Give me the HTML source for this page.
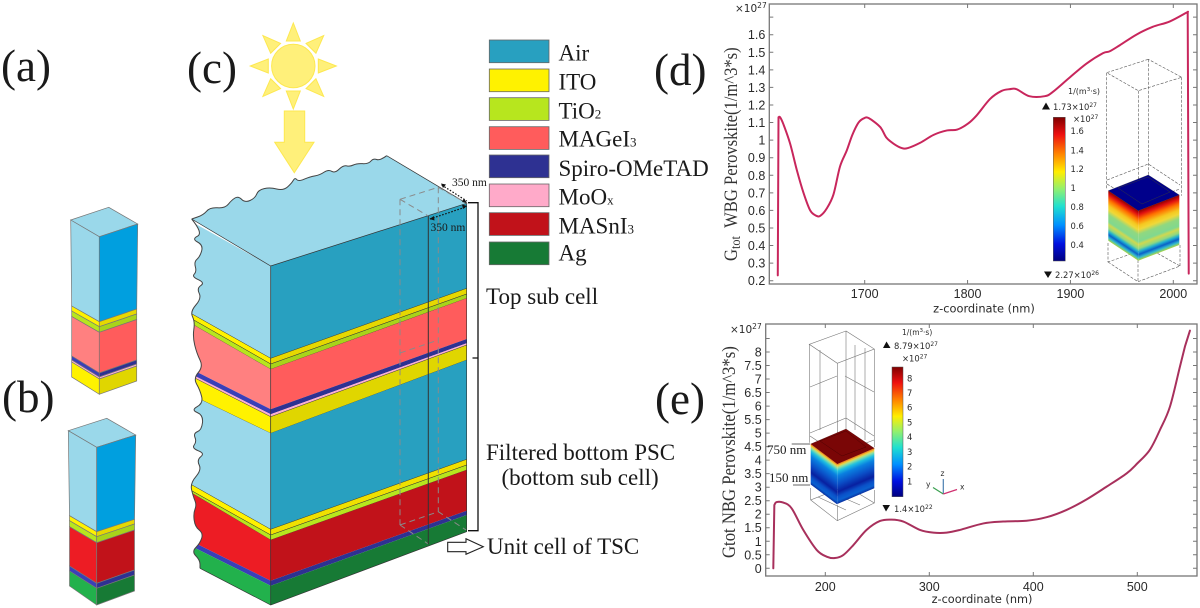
<!DOCTYPE html>
<html lang="en">
<head>
<meta charset="utf-8">
<title>Tandem solar cell structure and generation rate profiles</title>
<style>
html,body{margin:0;padding:0;background:#fff}
svg{display:block}
.serif{font-family:"Liberation Serif",serif;fill:#1a1a1a}
.sans{font-family:"DejaVu Sans","Liberation Sans",sans-serif;fill:#2a2a2a}
.tick{font-family:"Liberation Sans",sans-serif;fill:#2a2a2a;font-size:12.5px}
.panel{font-size:45px}
.leg{font-size:23px}
.note{font-size:23px}
.nm{font-size:11.5px}
.cb{font-size:8.4px}
.edge{stroke:#333;stroke-width:.5}
.ce{stroke:#777;stroke-width:.7}
</style>
</head>
<body>
<svg id="figure" xmlns="http://www.w3.org/2000/svg" width="1200" height="608" viewBox="0 0 1200 608">
<defs>
<clipPath id="leftClip"><path class="wave" data-pts="191.7,219 203.3,233.3 191.7,239 203.3,245 200,256.7 194,261.7 196.7,271.7 191.7,276.7 205,282.7 196.7,288.3 201.7,298.3 190,311.7 195,321.7 192.7,336.7 196.7,353.3 203.3,366.7 193.3,378.3 200,390 203.3,403.3 191,410 203.3,415 201.7,430 193.3,433.3 196.7,441.7 191.7,448.3 205,453.3 196.7,460 201.7,470 190,483.3 193.3,496.7 196.7,505 193.3,513.3 195,526.7 203.3,533.3 200,543.3 191.7,551.7 200,560 200,568.3" data-tail="L270.7,605L270.7,266Z"/></clipPath>
<linearGradient id="jetBar" x1="0" y1="0" x2="0" y2="1">
<stop offset="0" stop-color="#7f0000"/><stop offset=".12" stop-color="#ee1010"/><stop offset=".25" stop-color="#ff8000"/><stop offset=".38" stop-color="#ffee00"/><stop offset=".5" stop-color="#90f070"/><stop offset=".62" stop-color="#20e0d0"/><stop offset=".75" stop-color="#0090ff"/><stop offset=".88" stop-color="#0010e0"/><stop offset="1" stop-color="#00007f"/>
</linearGradient>
<linearGradient id="wbgBands" x1="0" y1="0" x2="0" y2="1">
<stop offset="0" stop-color="#8b0000"/><stop offset=".08" stop-color="#e01010"/><stop offset=".18" stop-color="#ff7000"/><stop offset=".3" stop-color="#f5c820"/><stop offset=".38" stop-color="#f0d838"/><stop offset=".48" stop-color="#90d880"/><stop offset=".62" stop-color="#80d890"/><stop offset=".68" stop-color="#d0d850"/><stop offset=".76" stop-color="#90d880"/><stop offset=".82" stop-color="#20b0d0"/><stop offset=".88" stop-color="#0a60c8"/><stop offset=".94" stop-color="#30b8d0"/><stop offset="1" stop-color="#b0d840"/>
</linearGradient>
<linearGradient id="nbgBands" x1="0" y1="0" x2="0" y2="1">
<stop offset="0" stop-color="#f07010"/><stop offset=".05" stop-color="#f0d040"/><stop offset=".1" stop-color="#90e0a0"/><stop offset=".18" stop-color="#20c0e0"/><stop offset=".3" stop-color="#0a80e0"/><stop offset=".5" stop-color="#0a50c8"/><stop offset=".7" stop-color="#0820a0"/><stop offset=".82" stop-color="#0a50c8"/><stop offset=".92" stop-color="#0a60d0"/><stop offset="1" stop-color="#0a30a0"/>
</linearGradient>
</defs>

<text class="serif panel" x="1" y="81">(a)</text>
<text class="serif panel" x="2" y="412">(b)</text>
<text class="serif panel" x="187" y="83">(c)</text>
<text class="serif panel" x="654" y="85">(d)</text>
<text class="serif panel" x="655" y="414">(e)</text>

<!-- Sun -->
<g fill="#fff07a" stroke="#fde850" stroke-width="1">
<circle cx="293.3" cy="66" r="21.7"/>
<polygon points="293.3,23 286.3,41 300.3,41"/>
<polygon points="293.3,23 286.3,41 300.3,41" transform="rotate(45 293.3 66)"/>
<polygon points="293.3,23 286.3,41 300.3,41" transform="rotate(90 293.3 66)"/>
<polygon points="293.3,23 286.3,41 300.3,41" transform="rotate(135 293.3 66)"/>
<polygon points="293.3,23 286.3,41 300.3,41" transform="rotate(180 293.3 66)"/>
<polygon points="293.3,23 286.3,41 300.3,41" transform="rotate(225 293.3 66)"/>
<polygon points="293.3,23 286.3,41 300.3,41" transform="rotate(270 293.3 66)"/>
<polygon points="293.3,23 286.3,41 300.3,41" transform="rotate(315 293.3 66)"/>
</g>
<polygon points="284.3,111 304.7,111 304.7,142.3 314,142.3 294.3,172.7 274.7,142.3 284.3,142.3" fill="#fff07a" stroke="#fde850" stroke-width="1"/>

<!-- Cell (a) -->
<g class="ce">
<polygon points="108.7,207.3 70.7,220 99.3,236.7 137.7,224" fill="#9ad8ea"/>
<polygon points="70.7,220 99.3,236.7 99.3,321.7 71.7,306" fill="#9ad8ea"/>
<polygon points="99.3,236.7 137.7,224 136.7,309 99.3,321.7" fill="#009fdf"/>
<polygon points="71.7,306 99.3,321.7 99.3,326.7 71.7,311" fill="#fff200"/><polygon points="99.3,321.7 136.7,309 136.7,314 99.3,326.7" fill="#e6d800"/>
<polygon points="71.7,311 99.3,326.7 99.3,332.3 71.7,316.5" fill="#b7e61e"/><polygon points="99.3,326.7 136.7,314 136.7,319.5 99.3,332.3" fill="#a8d41a"/>
<polygon points="71.7,316.5 99.3,332.3 99.3,373 71.7,356" fill="#ff8080"/><polygon points="99.3,332.3 136.7,319.5 136.7,360 99.3,373" fill="#ff5c5c"/>
<polygon points="71.7,356 99.3,373 99.3,377 71.7,360" fill="#3a3fb8"/><polygon points="99.3,373 136.7,360 136.7,364 99.3,377" fill="#2e3192"/>
<polygon points="71.7,360 99.3,377 99.3,379 71.7,362" fill="#ffb0d0"/><polygon points="99.3,377 136.7,364 136.7,366 99.3,379" fill="#ffb0d0"/>
<polygon points="71.7,362 99.3,379 99.3,394.3 71.7,377" fill="#fff200"/><polygon points="99.3,379 136.7,366 136.7,381 99.3,394.3" fill="#e0d600"/>
</g>

<!-- Cell (b) -->
<g class="ce">
<polygon points="106.7,418.3 68.3,430.7 96.7,447.3 135.7,435" fill="#9ad8ea"/>
<polygon points="68.3,430.7 96.7,447.3 96.7,531.7 69.5,515.7" fill="#9ad8ea"/>
<polygon points="96.7,447.3 135.7,435 134.5,519.3 96.7,531.7" fill="#009fdf"/>
<polygon points="69.5,515.7 96.7,531.7 96.7,536.7 69.5,520.7" fill="#fff200"/><polygon points="96.7,531.7 134.5,519.3 134.5,524 96.7,536.7" fill="#e6d800"/>
<polygon points="69.5,520.7 96.7,536.7 96.7,542.7 69.5,526.7" fill="#b7e61e"/><polygon points="96.7,536.7 134.5,524 134.5,530 96.7,542.7" fill="#a8d41a"/>
<polygon points="69.5,526.7 96.7,542.7 96.7,583.3 69.5,566" fill="#ed1c24"/><polygon points="96.7,542.7 134.5,530 134.5,570 96.7,583.3" fill="#c1121a"/>
<polygon points="69.5,566 96.7,583.3 96.7,588.3 69.5,571" fill="#3a3fb8"/><polygon points="96.7,583.3 134.5,570 134.5,575 96.7,588.3" fill="#2e3192"/>
<polygon points="69.5,571 96.7,588.3 96.7,605 69.5,586" fill="#22b14c"/><polygon points="96.7,588.3 134.5,575 134.5,591 96.7,605" fill="#177a35"/>
</g>

<!-- Main block (c) -->
<g>
<path class="wave" fill="#9ad8ea" data-pts="386.7,155.7 380,160.7 373.3,158.3 368.3,164 356.7,163.3 350,166.7 343.3,165 335,173.3 328.3,169.3 320,175 310,176.7 298.3,181.7 295,177.3 291.7,183.3 283.3,190.7 270,187.3 258.3,190 255,198.3 245,202.7 238.3,196 231.7,200 225,208.3 210,207.3 203.3,215 191.7,219" data-tail="L270.7,266L466.7,203.3Z"/>
<g clip-path="url(#leftClip)">
<polygon fill="#9ad8ea" points="185,218 270.7,266 270.7,358.3 185,310"/>
<polygon fill="#fff200" class="edge" points="185,310 270.7,358.3 270.7,364 185,315"/>
<polygon fill="#b7e61e" class="edge" points="185,315 270.7,364 270.7,369.3 185,320"/>
<polygon fill="#ff8080" points="185,320 270.7,369.3 270.7,409.3 185,366"/>
<polygon fill="#3a3fb8" points="185,366 270.7,409.3 270.7,414.3 185,371"/>
<polygon fill="#ffb0d0" points="185,371 270.7,414.3 270.7,416.7 185,373"/>
<polygon fill="#fff200" class="edge" points="185,373 270.7,416.7 270.7,433.3 185,392"/>
<polygon fill="#9ad8ea" points="185,392 270.7,433.3 270.7,529.3 185,481"/>
<polygon fill="#fff200" class="edge" points="185,481 270.7,529.3 270.7,535 185,487"/>
<polygon fill="#b7e61e" class="edge" points="185,487 270.7,535 270.7,540 185,489"/>
<polygon fill="#ed1c24" points="185,489 270.7,540 270.7,580.7 185,538"/>
<polygon fill="#3a3fb8" points="185,538 270.7,580.7 270.7,585.7 185,543"/>
<polygon fill="#22b14c" points="185,543 270.7,585.7 270.7,605 185,563"/>
</g>
<g>
<polygon fill="#28a0c0" points="270.7,266 466.7,203.3 466.7,288.3 270.7,358.3"/>
<polygon fill="#e6d800" class="edge" points="270.7,358.3 466.7,288.3 466.7,294 270.7,364"/>
<polygon fill="#a8d41a" class="edge" points="270.7,364 466.7,294 466.7,298.3 270.7,369.3"/>
<polygon fill="#ff5c5c" points="270.7,369.3 466.7,298.3 466.7,339 270.7,409.3"/>
<polygon fill="#2e3192" points="270.7,409.3 466.7,339 466.7,343.3 270.7,414.3"/>
<polygon fill="#ffb0d0" points="270.7,414.3 466.7,343.3 466.7,345 270.7,416.7"/>
<polygon fill="#e0d600" class="edge" points="270.7,416.7 466.7,345 466.7,360 270.7,433.3"/>
<polygon fill="#28a0c0" points="270.7,433.3 466.7,360 466.7,459.3 270.7,529.3"/>
<polygon fill="#f0e000" class="edge" points="270.7,529.3 466.7,459.3 466.7,465 270.7,535"/>
<polygon fill="#b7e61e" class="edge" points="270.7,535 466.7,465 466.7,470 270.7,540"/>
<polygon fill="#c1121a" points="270.7,540 466.7,470 466.7,510.7 270.7,580.7"/>
<polygon fill="#2e3192" points="270.7,580.7 466.7,510.7 466.7,515 270.7,585.7"/>
<polygon fill="#177a35" points="270.7,585.7 466.7,515 466.7,531.7 270.7,605"/>
</g>
<path class="wave" fill="none" stroke="#444" stroke-width="1" stroke-linejoin="round" data-pts="386.7,155.7 380,160.7 373.3,158.3 368.3,164 356.7,163.3 350,166.7 343.3,165 335,173.3 328.3,169.3 320,175 310,176.7 298.3,181.7 295,177.3 291.7,183.3 283.3,190.7 270,187.3 258.3,190 255,198.3 245,202.7 238.3,196 231.7,200 225,208.3 210,207.3 203.3,215 191.7,219" data-tail=""/>
<path class="wave" fill="none" stroke="#444" stroke-width="1" stroke-linejoin="round" data-pts="191.7,219 203.3,233.3 191.7,239 203.3,245 200,256.7 194,261.7 196.7,271.7 191.7,276.7 205,282.7 196.7,288.3 201.7,298.3 190,311.7 195,321.7 192.7,336.7 196.7,353.3 203.3,366.7 193.3,378.3 200,390 203.3,403.3 191,410 203.3,415 201.7,430 193.3,433.3 196.7,441.7 191.7,448.3 205,453.3 196.7,460 201.7,470 190,483.3 193.3,496.7 196.7,505 193.3,513.3 195,526.7 203.3,533.3 200,543.3 191.7,551.7 200,560 200,568.3" data-tail=""/>
<path d="M386.7,155.7L466.7,203.3L270.7,266L191.7,219M270.7,266V605" fill="none" stroke="#333" stroke-width=".7"/>
<path d="M200,568.3L270.7,605L466.7,531.7V203.3" fill="none" stroke="#333" stroke-width=".6"/>
</g>

<!-- Unit cell overlay -->
<g fill="none">
<path d="M400,199.3L438.3,187.3L466.7,203.3M400,199.3L428.3,216M400,199.3V525M438.3,187.3V511.7M400,353L438.3,340M400,525L438.3,511.7L466,530M400,525L428.3,544" stroke="#8a8a8a" stroke-width="1" stroke-dasharray="6 4"/>
<path d="M428.3,216V544.3" stroke="#333" stroke-width="1"/>
<path d="M441.7,185L466.7,201" stroke="#111" stroke-width="1.2" stroke-dasharray="1.6 1.6"/>
<path d="M430,219L466.7,206.7" stroke="#111" stroke-width="1.2" stroke-dasharray="1.6 1.6"/>
</g>
<polygon points="441,183.5 446,184.5 443,188" fill="#111"/>
<polygon points="429.5,219 434,216 434.5,220.5" fill="#111"/>
<polygon points="467,203 462,202 464,198.5" fill="#111"/>
<polygon points="467,206 462,204.5 463,209" fill="#111"/>
<text class="serif nm" x="452" y="186">350 nm</text>
<text class="serif nm" x="430.5" y="231">350 nm</text>

<path d="M468,202.7H478V530.7H468M472.5,358H478" fill="none" stroke="#111" stroke-width="1.3"/>
<polygon points="447.7,542.3 466,542.3 466,538.7 483.3,546.7 466,554.3 466,551.7 447.7,551.7" fill="#fff" stroke="#222" stroke-width="1.1"/>
<text class="serif note" x="486" y="304">Top sub cell</text>
<text class="serif note" x="486" y="460">Filtered bottom PSC</text>
<text class="serif note" x="501.5" y="485">(bottom sub cell)</text>
<text class="serif note" x="487" y="554">Unit cell of TSC</text>

<!-- Legend -->
<g>
<rect x="489.3" y="40" width="59.7" height="22.7" fill="#28a0c0" stroke="#666" stroke-width=".8"/>
<text class="serif leg" x="558.5" y="60.5">Air</text>
<rect x="489.3" y="69" width="59.7" height="22.7" fill="#fff200" stroke="#666" stroke-width=".8"/>
<text class="serif leg" x="558.5" y="89.3">ITO</text>
<rect x="489.3" y="97.7" width="59.7" height="22.7" fill="#b7e61e" stroke="#666" stroke-width=".8"/>
<text class="serif leg" x="558.5" y="118.3">TiO<tspan font-size="13">2</tspan></text>
<rect x="489.3" y="126.7" width="59.7" height="22.7" fill="#ff5c5c" stroke="#666" stroke-width=".8"/>
<text class="serif leg" x="558.5" y="146.7">MAGeI<tspan font-size="13">3</tspan></text>
<rect x="489.3" y="155" width="59.7" height="22.7" fill="#2e3192" stroke="#666" stroke-width=".8"/>
<text class="serif leg" x="558.5" y="176">Spiro-OMeTAD</text>
<rect x="489.3" y="184" width="59.7" height="22.7" fill="#ffaac9" stroke="#666" stroke-width=".8"/>
<text class="serif leg" x="558.5" y="204.3">MoO<tspan font-size="13">x</tspan></text>
<rect x="489.3" y="212.7" width="59.7" height="22.7" fill="#c1121a" stroke="#666" stroke-width=".8"/>
<text class="serif leg" x="558.5" y="233.3">MASnI<tspan font-size="13">3</tspan></text>
<rect x="489.3" y="242" width="59.7" height="22.7" fill="#177a35" stroke="#666" stroke-width=".8"/>
<text class="serif leg" x="558.5" y="260.5">Ag</text>
</g>

<!-- Chart (d) and (e) get axes from script -->
<g id="chartD"></g>
<g id="chartE"></g>

<text class="serif" font-size="19" transform="translate(737,261) rotate(-90) scale(.873,1)" style="fill:#333">G<tspan font-size="14" dy="3">tot</tspan><tspan dy="-3"> &#160;WBG Perovskite(1/m^3*s)</tspan></text>
<text class="serif" font-size="19" transform="translate(735,558) rotate(-90) scale(.879,1)" style="fill:#333">Gtot NBG Perovskite(1/m^3*s)</text>
<text class="sans" font-size="11.4" x="984" y="312.5" text-anchor="middle">z-coordinate (nm)</text>
<text class="sans" font-size="11.3" x="982" y="603" text-anchor="middle">z-coordinate (nm)</text>
<text class="sans" font-size="10.5" x="735" y="12">×10<tspan font-size="7.5" dy="-4">27</tspan></text>
<text class="sans" font-size="10.5" x="730" y="333">×10<tspan font-size="7.5" dy="-4">27</tspan></text>

<!-- Inset d -->
<g>
<path d="M1148.3,59.3L1106.7,72.7L1138.3,90.7L1181.7,77.3ZM1106.7,72.7V189M1138.3,90.7V210M1148.3,59.3V175M1181.7,77.3V195.7M1107,180L1148.3,164L1180,185M1107,184L1138,203L1180,189M1108,262L1138,281.7L1180,266L1148,248ZM1108,243V262M1138,260V282M1180,245V266" fill="none" stroke="#555" stroke-width=".6" stroke-dasharray="3 1.5"/>
<polygon points="1148.3,175 1108.3,190.7 1138.3,210.7 1179.3,195" fill="#00008b" stroke="#223" stroke-width=".3"/>
<path d="M1118,188L1148,177L1170,192M1118,188L1142,204L1170,192" fill="none" stroke="#334" stroke-width=".5"/>
<rect width="30" height="50" fill="url(#wbgBands)" transform="matrix(1,.667,0,1,1108.3,190.7)"/>
<rect width="41" height="50" fill="url(#wbgBands)" transform="matrix(1,-.383,0,1,1138.3,210.7)"/>
<rect x="1053.3" y="117.3" width="12" height="143.7" fill="url(#jetBar)" stroke="#555" stroke-width=".5"/>
<text class="sans" font-size="8" x="1068" y="94">1/(m<tspan font-size="5.5" dy="-3">3</tspan><tspan dy="3">·s)</tspan></text>
<polygon points="1046,102.5 1042,109.5 1050,109.5" fill="#111"/>
<text class="sans cb" x="1053" y="110">1.73×10<tspan font-size="6" dy="-3">27</tspan></text>
<text class="sans cb" x="1073" y="122">×10<tspan font-size="6" dy="-3">27</tspan></text>
<polygon points="1048,278 1044,271.5 1052,271.5" fill="#111"/>
<text class="sans cb" x="1055" y="278">2.27×10<tspan font-size="6" dy="-3">26</tspan></text>
<text class="sans cb" x="1070.5" y="134">1.6</text>
<text class="sans cb" x="1070.5" y="153.5">1.4</text>
<text class="sans cb" x="1070.5" y="172">1.2</text>
<text class="sans cb" x="1070.5" y="191">1</text>
<text class="sans cb" x="1070.5" y="210">0.8</text>
<text class="sans cb" x="1070.5" y="229">0.6</text>
<text class="sans cb" x="1070.5" y="248">0.4</text>
</g>

<!-- Inset e -->
<g>
<path d="M846,331L809.3,344.3L837.3,363.3L874.3,349ZM809.3,344.3V442.7M837.3,363.3V464M846,331V429M874.3,349V447.3M820,350V430M855,345V430M865,348V440M810,387L837,376M845,376L874,392M810,433L846,418L874,436M810,436L837,454L874,440M810.7,500L837.3,520.7L874.3,503L846,486ZM810.7,488V500M837.3,505V521M874.3,490V503M818,497L846,510M830,492L860,505" fill="none" stroke="#777" stroke-width=".6"/>
<polygon points="846,429 810.7,444 837.3,464 874.3,448.3" fill="#7a0606" stroke="#400" stroke-width=".3"/>
<path d="M820,441L846,431L866,447M820,441L842,456L866,447" fill="none" stroke="#400" stroke-width=".4"/>
<rect width="26.6" height="40.5" fill="url(#nbgBands)" transform="matrix(1,.752,0,1,810.7,444)"/>
<rect width="37" height="40" fill="url(#nbgBands)" transform="matrix(1,-.424,0,1,837.3,464)"/>
<rect x="892" y="367" width="11" height="129.7" fill="url(#jetBar)" stroke="#555" stroke-width=".5"/>
<text class="sans" font-size="7.5" x="902" y="335">1/(m<tspan font-size="5.5" dy="-3">3</tspan><tspan dy="3">·s)</tspan></text>
<polygon points="886.5,341.5 883,348 890.5,348" fill="#111"/>
<text class="sans cb" x="894" y="349">8.79×10<tspan font-size="6" dy="-3">27</tspan></text>
<text class="sans cb" x="902" y="361.5">×10<tspan font-size="6" dy="-3">27</tspan></text>
<polygon points="886,511.5 882.5,505 890,505" fill="#111"/>
<text class="sans cb" x="894" y="512">1.4×10<tspan font-size="6" dy="-3">22</tspan></text>
<text class="sans cb" x="907" y="381.7">8</text>
<text class="sans cb" x="907" y="396">7</text>
<text class="sans cb" x="907" y="410.7">6</text>
<text class="sans cb" x="907" y="425.3">5</text>
<text class="sans cb" x="907" y="440">4</text>
<text class="sans cb" x="907" y="455">3</text>
<text class="sans cb" x="907" y="469.7">2</text>
<text class="sans cb" x="907" y="484.7">1</text>
<path d="M791.7,444H810M793,485H810" stroke="#333" stroke-width=".8"/>
<text class="serif" font-size="13" x="767" y="454">750 nm</text>
<text class="serif" font-size="13" x="769" y="482">150 nm</text>
<g stroke-width="1.2" fill="none">
<path d="M943.3,494V479" stroke="#4a7fb0"/><path d="M943.3,494L933,487.5" stroke="#3aa050"/><path d="M943.3,494L957,489.5" stroke="#d03070"/>
</g>
<text class="sans" font-size="7.5" x="940.5" y="476">z</text>
<text class="sans" font-size="7.5" x="926" y="487">y</text>
<text class="sans" font-size="7.5" x="960" y="489.5">x</text>
</g>
</svg>

<script>
/* Chart (d): WBG perovskite generation rate */
const wbgZ = [1615.5,1616.2,1617.8,1621,1627.5,1634,1640.5,1647,1652.8,1657,1663,1669.6,1676,1682.5,1688,1694,1699.5,1704,1715,1721,1728,1736,1742,1754,1767,1780,1790,1800.6,1808.7,1822,1833,1841,1847.6,1860,1875,1883,1899,1915.5,1931.7,1938,1948,1964,1980,1996.4,2012.6,2014,2015];
const wbgG = [0.23,1.13,1.13,1.09,0.98,0.83,0.70,0.60,0.57,0.57,0.61,0.69,0.85,0.94,1.03,1.10,1.125,1.125,1.075,1.015,0.98,0.955,0.955,0.985,1.03,1.055,1.06,1.095,1.14,1.235,1.28,1.29,1.29,1.25,1.25,1.275,1.355,1.435,1.495,1.505,1.54,1.6,1.645,1.675,1.725,1.73,0.24];
const wbgXTicks = [1700,1800,1900,2000];
const wbgYTicks = [0.2,0.3,0.4,0.5,0.6,0.7,0.8,0.9,1,1.1,1.2,1.3,1.4,1.5,1.6,1.7];
const wbgYLabels = ["0.2","0.3","0.4","0.5","0.6","0.7","0.8","0.9","1","1.1","1.2","1.3","1.4","1.5","1.6",""];

/* Chart (e): NBG perovskite generation rate */
const nbgZ = [150,151,153.2,159.6,167.6,178.8,191.7,201.3,209.3,217.3,227,239.7,252.6,263.8,275,291,303.8,316.7,329.5,352,371,393.6,412.8,432,451.3,470.5,489.7,500,512,521.8,531.4,541,545.8,550.6];
const nbgG = [0,2.34,2.45,2.43,2.22,1.42,0.68,0.43,0.38,0.49,0.86,1.42,1.75,1.8,1.73,1.42,1.32,1.32,1.42,1.66,1.73,1.76,1.89,2.16,2.55,3.02,3.51,3.88,4.38,5.12,5.98,7.46,8.2,8.79];
const nbgXTicks = [200,300,400,500];
const nbgYTicks = [0,0.5,1,1.5,2,2.5,3,3.5,4,4.5,5,5.5,6,6.5,7,7.5,8,8.5];
const nbgYLabels = ["0","0.5","1","1.5","2","2.5","3","3.5","4","4.5","5","5.5","6","6.5","7","7.5","8",""];

const NS = "http://www.w3.org/2000/svg";
function lin(d0, d1, r0, r1) { return v => r0 + (v - d0) * (r1 - r0) / (d1 - d0); }

/* Rounds the hand-drawn wavy edges of the schematic */
document.querySelectorAll(".wave").forEach(el => {
  const p = el.getAttribute("data-pts").trim().split(/\s+/).map(s => s.split(",").map(Number));
  let d = "M" + p[0][0] + "," + p[0][1];
  for (let i = 1; i < p.length - 1; i++) {
    const mx = (p[i][0] + p[i + 1][0]) / 2, my = (p[i][1] + p[i + 1][1]) / 2;
    d += "Q" + p[i][0] + "," + p[i][1] + " " + mx + "," + my;
  }
  d += "L" + p[p.length - 1][0] + "," + p[p.length - 1][1];
  el.setAttribute("d", d + (el.getAttribute("data-tail") || ""));
});

/* Catmull-Rom through interior points, straight first and last segments */
function curvePath(pts) {
  const n = pts.length;
  let d = "M" + pts[0][0].toFixed(2) + "," + pts[0][1].toFixed(2) + "L" + pts[1][0].toFixed(2) + "," + pts[1][1].toFixed(2);
  for (let i = 1; i < n - 2; i++) {
    const a = pts[Math.max(1, i - 1)], b = pts[i], c = pts[i + 1], e = pts[Math.min(n - 2, i + 2)];
    d += "C" + (b[0] + (c[0] - a[0]) / 6).toFixed(2) + "," + (b[1] + (c[1] - a[1]) / 6).toFixed(2) + " "
       + (c[0] - (e[0] - b[0]) / 6).toFixed(2) + "," + (c[1] - (e[1] - b[1]) / 6).toFixed(2) + " "
       + c[0].toFixed(2) + "," + c[1].toFixed(2);
  }
  return d + "L" + pts[n - 1][0].toFixed(2) + "," + pts[n - 1][1].toFixed(2);
}

function drawChart(host, box, sx, sy, xTicks, yTicks, yLabels, zs, gs, color, prefix) {
  const frame = document.createElementNS(NS, "rect");
  frame.setAttribute("x", box.l);
  frame.setAttribute("y", box.t);
  frame.setAttribute("width", box.r - box.l);
  frame.setAttribute("height", box.b - box.t);
  frame.setAttribute("fill", "none");
  frame.setAttribute("stroke", "#777");
  frame.setAttribute("stroke-width", "1.3");
  
  
  host.appendChild(frame);

  let tickPath = "";
  xTicks.forEach(t => {
    const x = sx(t);
    tickPath += "M" + x + "," + box.b + "v-4M" + x + "," + box.t + "v4";
    const lab = document.createElementNS(NS, "text");
    lab.setAttribute("x", x);
    lab.setAttribute("y", box.xLabelY);
    lab.setAttribute("text-anchor", "middle");
    lab.setAttribute("class", "tick");
    
    
    lab.textContent = t;
    host.appendChild(lab);
  });
  yTicks.forEach((t, i) => {
    const y = sy(t);
    tickPath += "M" + box.l + "," + y + "h4M" + box.r + "," + y + "h-4";
    if (!yLabels[i]) return;
    const lab = document.createElementNS(NS, "text");
    lab.setAttribute("x", box.l - 4);
    lab.setAttribute("y", y + 4.5);
    lab.setAttribute("text-anchor", "end");
    lab.setAttribute("class", "tick");
    
    
    lab.textContent = yLabels[i];
    host.appendChild(lab);
  });
  const ticks = document.createElementNS(NS, "path");
  ticks.setAttribute("d", tickPath);
  ticks.setAttribute("stroke", "#777");
  ticks.setAttribute("stroke-width", "1");
  ticks.setAttribute("fill", "none");
  
  
  host.appendChild(ticks);

  const line = document.createElementNS(NS, "path");
  line.setAttribute("d", curvePath(zs.map((z, i) => [sx(z), sy(gs[i])])));
  line.setAttribute("fill", "none");
  line.setAttribute("stroke", color);
  line.setAttribute("stroke-width", "2");
  line.setAttribute("stroke-linejoin", "round");
  line.setAttribute("stroke-linecap", "round");
  
  
  host.appendChild(line);
}

drawChart(document.getElementById("chartD"),
  {l:769.3, r:1197, t:4, b:284, xLabelY:298},
  lin(1700, 2000, 864.7, 1173.3), lin(0.2, 1.6, 280.7, 34.7),
  wbgXTicks, wbgYTicks, wbgYLabels, wbgZ, wbgG, "#c8265c", "wbg");
drawChart(document.getElementById("chartE"),
  {l:765.7, r:1197, t:324, b:576, xLabelY:591},
  lin(200, 500, 825.3, 1137.3), lin(0, 8, 568.3, 352),
  nbgXTicks, nbgYTicks, nbgYLabels, nbgZ, nbgG, "#a8305c", "nbg");
</script>
</body>
</html>
